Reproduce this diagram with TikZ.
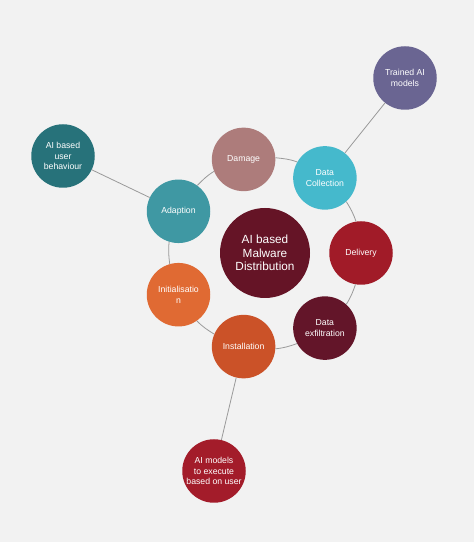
\documentclass[tikz,border=0pt]{standalone}
\usepackage{fontspec}
\setmainfont{Liberation Sans}
\definecolor{bgc}{HTML}{F2F2F2}
\definecolor{linec}{HTML}{9A9A9A}
\definecolor{ctrained}{HTML}{6A6592}
\definecolor{cuser}{HTML}{27727A}
\definecolor{cdamage}{HTML}{AD7C7B}
\definecolor{ccollect}{HTML}{45B9CC}
\definecolor{cadapt}{HTML}{3F98A3}
\definecolor{ccenter}{HTML}{651426}
\definecolor{cdeliv}{HTML}{A11B28}
\definecolor{cinit}{HTML}{E06A33}
\definecolor{cexfil}{HTML}{631529}
\definecolor{cinstall}{HTML}{CB5228}
\definecolor{cexec}{HTML}{A31C2A}
\begin{document}
\begin{tikzpicture}[x=1pt,y=1pt,
  bubble/.style={circle,minimum size=63.5pt,inner sep=0pt,align=center,text=white,
     font=\fontsize{8.7}{10.5}\selectfont},
  bigbubble/.style={circle,minimum size=90pt,inner sep=0pt,align=center,text=white,
     font=\fontsize{11.8}{13.3}\selectfont},
  link/.style={draw=linec,line width=0.8pt}]
\fill[bgc] (0,0) rectangle (474,542);
\useasboundingbox (0,0) rectangle (474,542);
\node[bigbubble,fill=ccenter] (center) at (265,289) {AI based\\Malware\\Distribution};
\node[bubble,fill=ctrained] (trained) at (405,464) {Trained AI\\models};
\node[bubble,fill=cuser] (user) at (63,386) {AI based\\user\\behaviour};
\node[bubble,fill=cdamage] (damage) at (243.6,382.6) {Damage};
\node[bubble,fill=ccollect] (collect) at (324.9,364.1) {Data\\Collection};
\node[bubble,fill=cadapt] (adapt) at (178.5,330.7) {Adaption};
\node[bubble,fill=cdeliv] (deliv) at (361,289) {Delivery};
\node[bubble,fill=cinit] (init) at (178.5,247.3) {Initialisatio\\n};
\node[bubble,fill=cexfil] (exfil) at (324.9,213.9) {Data\\exfiltration};
\node[bubble,fill=cinstall] (install) at (243.6,195.4) {Installation};
\node[bubble,fill=cexec] (exec) at (214,71) {AI models\\to execute\\based on user};
% ring connectors: arcs of the circle of radius 96 round the centre
\draw[link] (deliv.99.52)   to[out=109.04, in=-57.61]  (collect.-48.09);
\draw[link] (collect.150.95) to[out=160.47, in=-6.18]  (damage.3.34);
\draw[link] (damage.202.38) to[out=211.90, in=45.25]   (adapt.54.77);
\draw[link] (adapt.253.81)  to[out=263.33, in=96.68]   (init.106.19);
\draw[link] (init.305.23)   to[out=314.75, in=148.10]  (install.157.62);
\draw[link] (install.356.66) to[out=366.18, in=199.53] (exfil.209.05);
\draw[link] (exfil.408.09)  to[out=417.61, in=250.96]  (deliv.260.48);
\path[link] (collect) -- (trained);
\path[link] (adapt) -- (user);
\path[link] (install) -- (exec);
\end{tikzpicture}
\end{document}
